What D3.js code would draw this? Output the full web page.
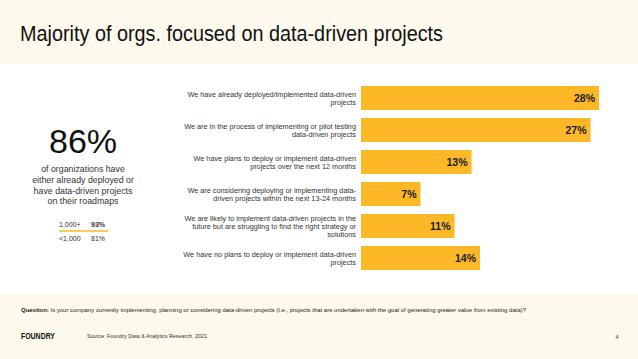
<!DOCTYPE html>
<html>
<head>
<meta charset="utf-8">
<script src="https://cdn.jsdelivr.net/npm/d3@7"></script>
<style>
  html, body { margin: 0; padding: 0; background: #ffffff; }
  svg { display: block; font-family: "Liberation Sans", Arial, Helvetica, sans-serif; }
</style>
</head>
<body>
<svg id="chart" width="638" height="359"></svg>
<script>
// ---- data ----
const categories = [
  "We have already deployed/implemented data-driven\nprojects",
  "We are in the process of implementing or pilot testing\ndata-driven projects",
  "We have plans to deploy or implement data-driven\nprojects over the next 12 months",
  "We are considering deploying or implementing data-\ndriven projects within the next 13-24 months",
  "We are likely to implement data-driven projects in the\nfuture but are struggling to find the right strategy or\nsolutions",
  "We have no plans to deploy or implement data-driven\nprojects"
];
const values = [28, 27, 13, 7, 11, 14];
const valueLabels = ["28%", "27%", "13%", "7%", "11%", "14%"];

const headline = "86%";
const headlineText = ["of organizations have", "either already deployed or", "have data-driven projects", "on their roadmaps"];
const sizeGroups = ["1,000+", "<1,000"];
const sizeValues = ["93%", "81%"];

const title = "Majority of orgs. focused on data-driven projects";
const question = "Is your company currently implementing, planning or considering data-driven projects (i.e., projects that are undertaken with the goal of generating greater value from existing data)?";
const source = "Source: Foundry Data & Analytics Research, 2021";
const pageNum = "4";

// ---- drawing ----
const W = 638, H = 359;
const ORANGE = "#FDB827";
const CREAM = "#FDF9EC";
const svg = d3.select("#chart");

// backgrounds
svg.append("rect").attr("x", 0).attr("y", 0).attr("width", W).attr("height", 64).attr("fill", CREAM);
svg.append("rect").attr("x", 0).attr("y", 64).attr("width", W).attr("height", 230).attr("fill", "#ffffff");
svg.append("rect").attr("x", 0).attr("y", 294).attr("width", W).attr("height", H - 294).attr("fill", CREAM);

// title
svg.append("text").attr("x", 20).attr("y", 41)
  .attr("font-size", 22).attr("fill", "#111")
  .attr("textLength", 423).attr("lengthAdjust", "spacingAndGlyphs")
  .text(title);

// scales
const x = d3.scaleLinear().domain([0, 28]).range([361, 599]);
const y = d3.scaleBand().domain(categories).range([86, 270]).paddingInner(0.25).paddingOuter(0);

// bars
svg.append("g").selectAll("rect").data(values).join("rect")
  .attr("x", x(0))
  .attr("y", (d, i) => y(categories[i]))
  .attr("width", d => x(d) - x(0))
  .attr("height", y.bandwidth())
  .attr("fill", ORANGE);

// value labels
svg.append("g").selectAll("text").data(values).join("text")
  .attr("x", d => x(d) - 4)
  .attr("y", (d, i) => y(categories[i]) + y.bandwidth() / 2)
  .attr("dy", "0.36em")
  .attr("text-anchor", "end")
  .attr("font-size", 10.5).attr("font-weight", "bold").attr("fill", "#1a1a1a")
  .text((d, i) => valueLabels[i]);

// category labels
const lh = 8;
const catG = svg.append("g");
categories.forEach(c => {
  const lines = c.split("\n");
  const cy = y(c) + y.bandwidth() / 2;
  const t = catG.append("text")
    .attr("text-anchor", "end").attr("font-size", 7.3).attr("fill", "#333");
  lines.forEach((ln, j) => {
    t.append("tspan").attr("x", 356)
      .attr("y", cy + (j - (lines.length - 1) / 2) * lh)
      .attr("dy", "0.35em")
      .text(ln);
  });
});

// left panel
svg.append("text").attr("x", 83).attr("y", 153).attr("text-anchor", "middle")
  .attr("font-size", 34).attr("fill", "#111").text(headline);
headlineText.forEach((ln, j) => {
  svg.append("text").attr("x", 83).attr("y", 169 + j * 10.8).attr("dy", "0.35em")
    .attr("text-anchor", "middle").attr("font-size", 8.8).attr("fill", "#333").text(ln);
});
sizeGroups.forEach((g, j) => {
  const yy = 225 + j * 14;
  svg.append("text").attr("x", 59).attr("y", yy).attr("dy", "0.35em")
    .attr("font-size", 7).attr("fill", "#333").text(g);
  svg.append("text").attr("x", 91).attr("y", yy).attr("dy", "0.35em")
    .attr("font-size", 7).attr("font-weight", j === 0 ? "bold" : "normal").attr("fill", "#333").text(sizeValues[j]);
});
svg.append("line").attr("x1", 59).attr("x2", 108).attr("y1", 231).attr("y2", 231)
  .attr("stroke", ORANGE).attr("stroke-width", 1.6);

// footer
const q = svg.append("text").attr("x", 21).attr("y", 310).attr("dy", "0.35em")
  .attr("font-size", 5.6).attr("fill", "#222")
  .attr("textLength", 505).attr("lengthAdjust", "spacingAndGlyphs");
q.append("tspan").attr("font-weight", "bold").text("Question: ");
q.append("tspan").text(question);

svg.append("text").attr("x", 21).attr("y", 336).attr("dy", "0.35em")
  .attr("font-size", 8.5).attr("font-weight", "bold").attr("fill", "#111")
  .attr("textLength", 34).attr("lengthAdjust", "spacingAndGlyphs")
  .text("FOUNDRY");
svg.append("text").attr("x", 87).attr("y", 336).attr("dy", "0.35em")
  .attr("font-size", 5.6).attr("fill", "#333")
  .attr("textLength", 120).attr("lengthAdjust", "spacingAndGlyphs")
  .text(source);
svg.append("text").attr("x", 617).attr("y", 337).attr("dy", "0.35em")
  .attr("text-anchor", "middle").attr("font-size", 5.6).attr("fill", "#333").text(pageNum);
</script>
</body>
</html>
